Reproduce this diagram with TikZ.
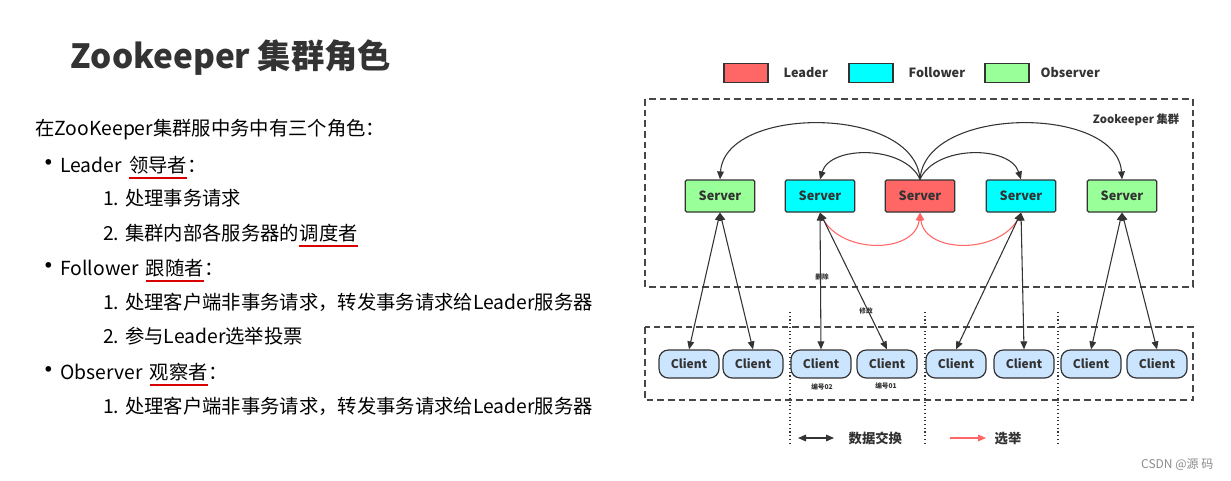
\documentclass[tikz,border=0pt]{standalone}
\usepackage{fontspec}
\setmainfont{Noto Sans CJK SC}
\usetikzlibrary{arrows.meta}
\definecolor{ldr}{HTML}{FF6666}
\definecolor{flw}{HTML}{00FFFF}
\definecolor{obs}{HTML}{99FF99}
\definecolor{cli}{HTML}{CCE5FF}
\definecolor{ink}{HTML}{333333}
\begin{document}
\begin{tikzpicture}[x=0.75pt,y=-0.75pt,
  srv/.style={draw=ink,line width=0.9pt,minimum width=52pt,minimum height=24pt,font=\bfseries\fontsize{9.5}{10}\selectfont,text=ink,rounded corners=1pt},
  cl/.style={draw=ink,line width=0.9pt,fill=cli,minimum width=45pt,minimum height=21pt,rounded corners=7pt,font=\bfseries\fontsize{9}{10}\selectfont,text=ink},
  lg/.style={draw=ink,line width=0.9pt,minimum width=33pt,minimum height=14pt},
  lt/.style={font=\bfseries\fontsize{9.5}{10}\selectfont,text=ink,anchor=west},
  da/.style={draw=ink,line width=0.8pt,{Triangle[length=6pt,width=5pt]}-{Triangle[length=6pt,width=5pt]}},
  ar/.style={draw=ink,line width=0.8pt,-{Triangle[length=6pt,width=5pt]}},
  ra/.style={draw=ldr,line width=0.8pt,-{Triangle[length=6pt,width=5pt]}},
  dbox/.style={draw=ink!90,dashed,line width=1pt,dash pattern=on 5pt off 3pt},
  dot/.style={draw=ink,dotted,line width=0.8pt},
  tiny/.style={font=\bfseries\fontsize{5}{6}\selectfont,text=ink},
  body/.style={font=\fontsize{14.5}{17}\selectfont,anchor=west,inner xsep=0pt},
  nx/.style={body,anchor=base west},
  bul/.style={font=\fontsize{20}{20}\selectfont,anchor=west,inner xsep=0pt},
  ul/.style={draw=red!85!black,line width=1.5pt}]
\useasboundingbox (0,0) rectangle (1231,480);
\fill[white] (0,0) rectangle (1231,480);
% left text
\node[anchor=west,font=\bfseries\fontsize{25}{30}\selectfont,text=ink] (title) at (66,58) {Zookeeper 集群角色};
\node[body] (t0) at (35,130) {在ZooKeeper集群服中务中有三个角色：};
\node[bul] (d1) at (35,166) {•};
\node[body] (b1) at (60,165) {Leader\kern5pt};
\node[nx] (u1) at (b1.base east) {领导者};
\node[nx] (e1) at (u1.base east) {：};
\node[body] (l11) at (103,198) {1. 处理事务请求};
\node[body] (l12) at (103,233) {2. 集群内部各服务器的};
\node[nx] (u2) at (l12.base east) {调度者};
\node[bul] (d2) at (35,269) {•};
\node[body] (b2) at (60,268) {Follower\kern5pt};
\node[nx] (u3) at (b2.base east) {跟随者};
\node[nx] (e3) at (u3.base east) {：};
\node[body] (l21) at (103,302) {1. 处理客户端非事务请求，转发事务请求给Leader服务器};
\node[body] (l22) at (103,336) {2. 参与Leader选举投票};
\node[bul] (d3) at (35,373) {•};
\node[body] (b3) at (60,372) {Observer\kern5pt};
\node[nx] (u4) at (b3.base east) {观察者};
\node[nx] (e4) at (u4.base east) {：};
\node[body] (l31) at (103,406) {1. 处理客户端非事务请求，转发事务请求给Leader服务器};
\draw[ul] ([yshift=-4pt]u1.base west) -- ([yshift=-4pt]u1.base east);
\draw[ul] ([yshift=-4pt]u2.base west) -- ([yshift=-4pt]u2.base east);
\draw[ul] ([yshift=-4pt]u3.base west) -- ([yshift=-4pt]u3.base east);
\draw[ul] ([yshift=-4pt]u4.base west) -- ([yshift=-4pt]u4.base east);
% legend
\node[lg,fill=ldr] (kl) at (746,73) {};
\node[lt] (klt) at (779,73) {Leader};
\node[lg,fill=flw] (kf) at (871,73) {};
\node[lt] (kft) at (904,73) {Follower};
\node[lg,fill=obs] (ko) at (1007,73) {};
\node[lt] (kot) at (1036,73) {Observer};
% boxes
\draw[dbox] (645,99) rectangle (1193,287);
\draw[dbox] (645,327) rectangle (1193,400);
\node[font=\bfseries\fontsize{8.5}{10}\selectfont,text=ink,anchor=east] (zk) at (1184,120) {Zookeeper 集群};
\draw[dot] (790,312) -- (790,444);
\draw[dot] (925,312) -- (925,444);
\draw[dot] (1058,312) -- (1058,444);
% servers
\node[srv,fill=obs] (s1) at (720,196) {Server};
\node[srv,fill=flw] (s2) at (820,196) {Server};
\node[srv,fill=ldr] (s3) at (920,196) {Server};
\node[srv,fill=flw] (s4) at (1021,196) {Server};
\node[srv,fill=obs] (s5) at (1122,196) {Server};
% clients
\foreach \i/\x in {1/689,2/753,3/821,4/887,5/956,6/1024,7/1091,8/1157}
  \node[cl] (c\i) at (\x,364) {Client};
% leader arcs
\draw[ar] (s3.north) .. controls (915,105) and (725,105) .. (s1.north);
\draw[ar] (s3.north) .. controls (905,145) and (830,145) .. (s2.north);
\draw[ar] (s3.north) .. controls (935,145) and (1010,145) .. (s4.north);
\draw[ar] (s3.north) .. controls (925,105) and (1117,105) .. (s5.north);
% election
\draw[ra] (s2.south) .. controls (835,255) and (915,255) .. (s3.south);
\draw[ra] (s4.south) .. controls (1006,255) and (925,255) .. (s3.south);
% data exchange
\draw[da] (s1.south) -- (c1.north);
\draw[da] (s1.south) -- (c2.north);
\draw[da] (s2.south) -- (c3.north);
\draw[da] (s2.south) -- (c4.north);
\draw[da] (s4.south) -- (c5.north);
\draw[da] (s4.south) -- (c6.north);
\draw[da] (s5.south) -- (c7.north);
\draw[da] (s5.south) -- (c8.north);
\node[tiny] (del) at (822,277) {删除};
\node[tiny] (mod) at (866,311) {修改};
\node[tiny] (n2) at (822,387) {编号02};
\node[tiny] (n1) at (886,386) {编号01};
% bottom legend
\coordinate (a1) at (798,438); \coordinate (a2) at (834,438);
\draw[da] (a1) -- (a2);
\node[lt,font=\bfseries\fontsize{10}{12}\selectfont] (dx) at (844,438) {数据交换};
\coordinate (r1) at (950,438); \coordinate (r2) at (986,438);
\draw[ra] (r1) -- (r2);
\node[lt,font=\bfseries\fontsize{10}{12}\selectfont] (xj) at (990,438) {选举};
\node[anchor=east,font=\fontsize{9}{10}\selectfont,text=black!45] (wm) at (1218,465) {CSDN @源\ 码};
\end{tikzpicture}
\end{document}
